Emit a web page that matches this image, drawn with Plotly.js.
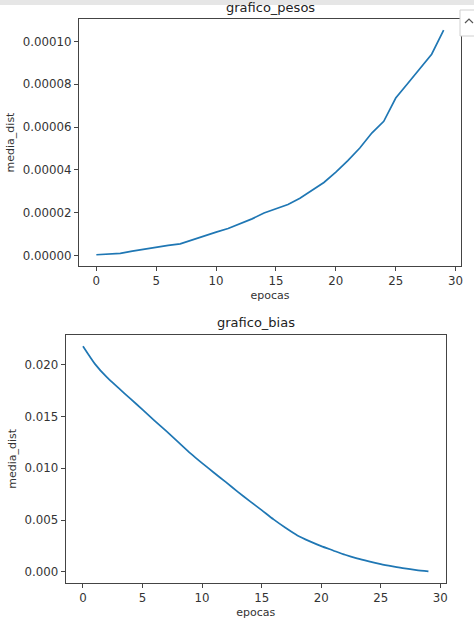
<!DOCTYPE html>
<html>
<head>
<meta charset="utf-8">
<script src="https://cdn.plot.ly/plotly-3.0.1.min.js"></script>
<style>html,body{margin:0;padding:0;background:#fff;}#chart{width:474px;height:625px;}</style>
</head>
<body>
<div id="chart"></div>
<script>
const epocas = [0,1,2,3,4,5,6,7,8,9,10,11,12,13,14,15,16,17,18,19,20,21,22,23,24,25,26,27,28,29];
const pesos = [0.0000003,0.0000006,0.0000010,0.0000020,0.0000030,0.0000039,0.0000047,0.0000054,0.0000073,0.0000092,
  0.0000109,0.0000126,0.0000148,0.0000171,0.0000198,0.0000218,0.0000238,0.0000267,0.0000303,0.0000341,
  0.0000389,0.0000443,0.0000502,0.0000572,0.0000627,0.0000736,0.0000804,0.0000871,0.0000941,0.0001053];
const bias = [0.02180,0.02010,0.01881,0.01775,0.01671,0.01568,0.01462,0.01359,0.01253,0.01147,
  0.01050,0.00957,0.00866,0.00773,0.00683,0.00596,0.00506,0.00425,0.00351,0.00296,
  0.00248,0.00206,0.00164,0.00129,0.00100,0.00074,0.00052,0.00032,0.00016,0.00003];
const titles = ["grafico_pesos", "grafico_bias"];
const xLabel = "epocas";
const yLabel = "media_dist";
const xTicks = [0,5,10,15,20,25,30];
const pesosTicks = [0,0.00002,0.00004,0.00006,0.00008,0.00010];
const biasTicks = [0,0.005,0.010,0.015,0.020];

const W = 474, H = 625;
const px = v => v / W;
const py = v => (H - v) / H;
const font = {family: "DejaVu Sans", size: 11, color: "#333"};
const tickFont = {family: "DejaVu Sans", size: 11.8, color: "#333"};
const lineC = "#1f77b4";

const axBase = {
  showgrid: false, zeroline: false, showline: true, mirror: true,
  linecolor: "#444", linewidth: 1, ticks: "outside", ticklen: 4, tickwidth: 1, tickcolor: "#444",
  tickfont: tickFont, automargin: false, tickmode: "array"
};

const data = [
  {x: epocas, y: pesos, type: "scatter", mode: "lines", line: {color: lineC, width: 1.7}, xaxis: "x", yaxis: "y", hoverinfo: "skip"},
  {x: epocas, y: bias, type: "scatter", mode: "lines", line: {color: lineC, width: 1.7, shape: "spline", smoothing: 0.6}, xaxis: "x2", yaxis: "y2", hoverinfo: "skip"}
];

const layout = {
  width: W, height: H, margin: {l: 0, r: 0, t: 0, b: 0},
  paper_bgcolor: "#fff", plot_bgcolor: "#fff", showlegend: false, font: font,
  xaxis: Object.assign({}, axBase, {domain: [px(79), px(461)], range: [-1.45, 30.45], anchor: "y",
    tickvals: xTicks, ticktext: xTicks.map(String),
    title: {text: xLabel, font: font, standoff: 4}}),
  yaxis: Object.assign({}, axBase, {domain: [py(266), py(19)], range: [-4.95e-6, 1.1055e-4], anchor: "x",
    tickvals: pesosTicks, ticktext: pesosTicks.map(v => v.toFixed(5)),
    title: {text: yLabel, font: font, standoff: 5}}),
  xaxis2: Object.assign({}, axBase, {domain: [px(65.7), px(445.7)], range: [-1.45, 30.45], anchor: "y2",
    tickvals: xTicks, ticktext: xTicks.map(String),
    title: {text: xLabel, font: font, standoff: 4}}),
  yaxis2: Object.assign({}, axBase, {domain: [py(582.7), py(335)], range: [-0.00106, 0.02289], anchor: "x2",
    tickvals: biasTicks, ticktext: biasTicks.map(v => v.toFixed(3)),
    title: {text: yLabel, font: font, standoff: 5}}),
  annotations: [
    {text: titles[0], xref: "paper", yref: "paper", x: px(270), y: py(17), xanchor: "center", yanchor: "bottom",
     showarrow: false, font: {family: "DejaVu Sans", size: 13, color: "#222"}},
    {text: titles[1], xref: "paper", yref: "paper", x: px(255.7), y: py(332), xanchor: "center", yanchor: "bottom",
     showarrow: false, font: {family: "DejaVu Sans", size: 13, color: "#222"}}
  ],
  shapes: [
    {type: "rect", xref: "paper", yref: "paper", x0: 0, x1: 1, y0: py(5), y1: 1, fillcolor: "#e6e6e6", line: {width: 0}, layer: "below"},
    {type: "rect", xref: "paper", yref: "paper", x0: px(460), x1: px(476), y0: py(36), y1: py(10), fillcolor: "#fff", line: {color: "#d0d0d0", width: 1}, layer: "above"},
    {type: "path", xref: "paper", yref: "paper", path: `M ${px(465)} ${py(23)} L ${px(469)} ${py(19)} L ${px(473)} ${py(23)}`, line: {color: "#555", width: 1.2}, layer: "above"}
  ]
};

Plotly.newPlot("chart", data, layout, {displayModeBar: false, staticPlot: true});
</script>
</body>
</html>
